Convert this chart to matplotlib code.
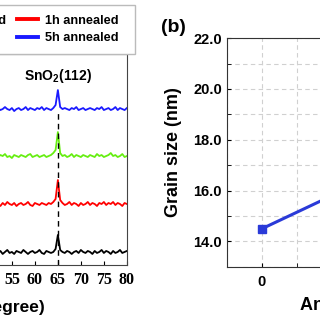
import numpy as np
import matplotlib

matplotlib.use("Agg")
import matplotlib.pyplot as plt
from matplotlib.lines import Line2D
from matplotlib.ticker import MultipleLocator, FormatStrFormatter

plt.rcParams["font.family"] = ["Liberation Sans", "DejaVu Sans"]
plt.rcParams["font.weight"] = "bold"
plt.rcParams["mathtext.fontset"] = "custom"
plt.rcParams["mathtext.rm"] = "Liberation Sans:bold"
plt.rcParams["mathtext.bf"] = "Liberation Sans:bold"

# (a) XRD patterns, 2theta = 52.0 ... 80.0 step 0.5
two_theta = np.arange(52.0, 80.01, 0.5)
as_deposited = [10, 12, 9, 11, 13, 10, 11, 9, 12, 11,
                10, 13, 11, 9, 11, 12, 10, 11, 13, 10,
                9, 12, 11, 10, 11, 14, 28, 13, 11, 10,
                12, 11, 9, 11, 12, 10, 13, 11, 10, 12,
                11, 9, 12, 10, 11, 13, 10, 12, 11, 9,
                12, 10, 11, 13, 10, 11, 12]
annealed_1h = [11, 9, 12, 10, 13, 11, 10, 12, 9, 11,
               12, 10, 11, 13, 10, 9, 12, 11, 10, 12,
               11, 10, 12, 11, 13, 16, 35, 15, 12, 10,
               11, 13, 10, 12, 11, 9, 12, 10, 11, 13,
               10, 12, 11, 9, 12, 11, 13, 10, 12, 11,
               13, 10, 12, 11, 9, 12, 11]
annealed_3h = [10, 12, 11, 13, 10, 11, 9, 12, 11, 10,
               12, 11, 10, 12, 13, 10, 11, 12, 10, 11,
               12, 10, 11, 12, 14, 17, 35, 14, 11, 12,
               10, 11, 13, 10, 12, 11, 10, 12, 11, 10,
               12, 11, 10, 13, 11, 12, 10, 11, 12, 14,
               11, 12, 10, 11, 13, 10, 11]
annealed_5h = [12, 10, 11, 13, 11, 10, 12, 9, 11, 12,
               10, 11, 13, 10, 12, 11, 10, 12, 11, 13,
               10, 12, 11, 10, 12, 15, 30, 13, 11, 12,
               11, 10, 12, 11, 13, 10, 11, 12, 10, 11,
               12, 11, 10, 12, 11, 13, 10, 11, 12, 10,
               11, 13, 10, 12, 11, 10, 12]
xrd_labels = ["As-deposited", "1h annealed  ", "3h annealed", "5h annealed  "]
xrd_colors = ["#000000", "#ff0000", "#66ee11", "#1a1aff"]
xrd_offsets = [2, 50, 98, 145]
peak_pos = 65.0

# (b) grain size vs annealing time
anneal_time = [0, 1, 3, 5]
grain_size = [14.5, 15.8, 17.6, 19.3]

fig = plt.figure(figsize=(3.2, 3.2), dpi=100)

ax1 = fig.add_axes([-0.466, 0.172, 0.8625, 0.659])
lines = []
for y, c, off in zip([as_deposited, annealed_1h, annealed_3h, annealed_5h], xrd_colors, xrd_offsets):
    ax1.plot(two_theta, np.array(y) + off, color=c, lw=1.3)
    lines.append(Line2D([], [], color=c, lw=2.8))
ax1.vlines(peak_pos, 0, xrd_offsets[-1] + 10, colors="black", linestyles=(0, (4, 3)), lw=1.0)
ax1.text(peak_pos, 189, "SnO$_2$(112)", ha="center", va="center", fontsize=10, fontweight="bold")
ax1.set_xlim(20, 80)
ax1.set_ylim(0, 211)
ax1.set_xticks([20, 25, 30, 35, 40, 45, 50, 55, 60, 65, 70, 75, 80])
ax1.set_yticks([])
ax1.tick_params(axis="x", direction="in", length=3, pad=5)
for lab in ax1.get_xticklabels():
    lab.set_fontfamily("Liberation Serif")
    lab.set_fontweight("bold")
    lab.set_fontsize(11.5)
ax1.set_xlabel("2θ (degree)", fontsize=12.5, fontweight="bold")
ax1.xaxis.set_label_coords(0.536, -0.166)
for s in ax1.spines.values():
    s.set_color("#444444")

order = [0, 2, 1, 3]
fig.legend([lines[i] for i in order], [xrd_labels[i] for i in order], ncol=2,
           loc="lower right", bbox_to_anchor=(135 / 320, 1 - 54 / 320),
           frameon=True, fancybox=False, edgecolor="#bbbbbb", framealpha=1,
           prop={"weight": "bold", "size": 9.2}, handlelength=1.7,
           handletextpad=0.5, columnspacing=0.8, borderaxespad=0,
           labelspacing=0.45, borderpad=0.75)

ax2 = fig.add_axes([0.709, 0.166, 1.3125, 0.715])
ax2.plot(anneal_time, grain_size, color="#2a3ad8", lw=2.2, marker="s", ms=5.5)
ax2.set_xlim(-0.5, 5.5)
ax2.set_ylim(13, 22)
ax2.xaxis.set_major_locator(MultipleLocator(1))
ax2.xaxis.set_minor_locator(MultipleLocator(0.5))
ax2.yaxis.set_major_locator(MultipleLocator(2))
ax2.yaxis.set_minor_locator(MultipleLocator(1))
ax2.yaxis.set_major_formatter(FormatStrFormatter("%.1f"))
ax2.grid(True, which="both", ls=(0, (4, 3)), color="#d0d0d0", lw=0.8)
ax2.set_axisbelow(True)
ax2.tick_params(which="both", direction="in", length=3, labelsize=10.5)
ax2.tick_params(axis="y", pad=3.5)
ax2.tick_params(axis="x", pad=6)
ax2.set_ylabel("Grain size (nm)", fontsize=13, fontweight="bold", labelpad=8)
ax2.set_xlabel("Annealing time (h)", fontsize=13, fontweight="bold", ha="left")
ax2.xaxis.set_label_coords(0.174, -0.131)
for s in ax2.spines.values():
    s.set_color("#333333")
fig.text(173 / 320, 1 - 28 / 320, "(b)", ha="center", va="center", fontsize=14, fontweight="bold")

fig.savefig("out.png", dpi=100)
